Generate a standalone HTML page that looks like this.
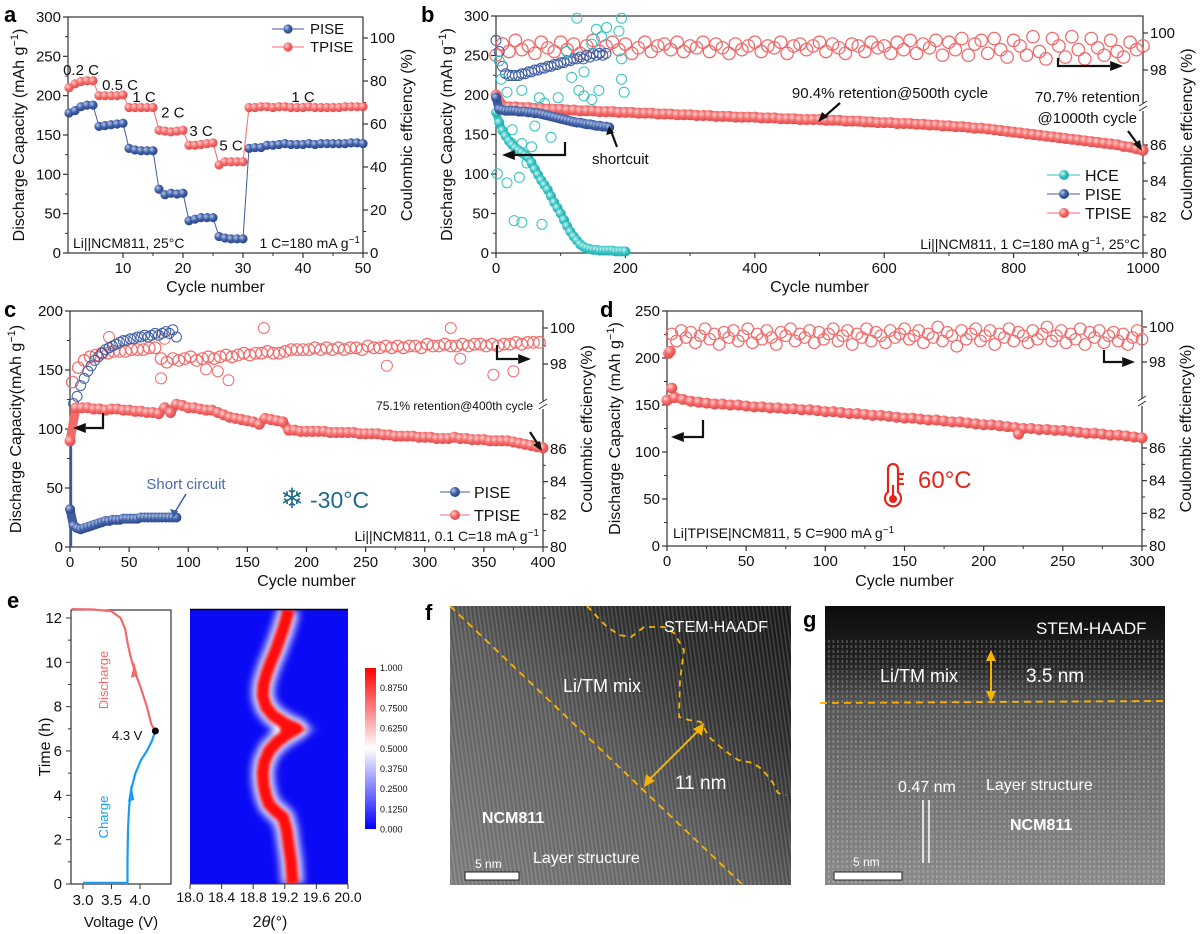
<!DOCTYPE html>
<html><head><meta charset="utf-8"><style>
html,body{margin:0;padding:0;background:#fff;}
svg{display:block;font-family:"Liberation Sans",Arial,sans-serif;}
</style></head><body>
<svg id="fig" width="1200" height="934" viewBox="0 0 1200 934" xmlns="http://www.w3.org/2000/svg">
<defs>
<radialGradient id="gR" cx="0.35" cy="0.35" r="0.7"><stop offset="0" stop-color="#ffd0d0"/><stop offset="0.5" stop-color="#f46a6a"/><stop offset="1" stop-color="#e04848"/></radialGradient>
<radialGradient id="gB" cx="0.35" cy="0.35" r="0.7"><stop offset="0" stop-color="#b8c8ec"/><stop offset="0.5" stop-color="#3f5fa6"/><stop offset="1" stop-color="#2b4585"/></radialGradient>
<radialGradient id="gC" cx="0.35" cy="0.35" r="0.7"><stop offset="0" stop-color="#d0f5f5"/><stop offset="0.5" stop-color="#35c3c3"/><stop offset="1" stop-color="#1ea5a5"/></radialGradient>
<linearGradient id="cbar" x1="0" y1="0" x2="0" y2="1"><stop offset="0" stop-color="#ff0000"/><stop offset="0.5" stop-color="#ffffff"/><stop offset="1" stop-color="#0000ff"/></linearGradient>
<linearGradient id="fGrad" x1="0" y1="1" x2="1" y2="0"><stop offset="0" stop-color="#7a7a7a"/><stop offset="0.45" stop-color="#5a5a5a"/><stop offset="0.75" stop-color="#2a2a2a"/><stop offset="1" stop-color="#151515"/></linearGradient>
<linearGradient id="gGrad" x1="0" y1="0" x2="0" y2="1"><stop offset="0" stop-color="#0c0c0c"/><stop offset="0.2" stop-color="#222"/><stop offset="0.35" stop-color="#555"/><stop offset="0.6" stop-color="#6e6e6e"/><stop offset="1" stop-color="#8a8a8a"/></linearGradient>
<pattern id="stripes" width="4" height="8" patternUnits="userSpaceOnUse" patternTransform="rotate(-8)"><rect x="0" y="0" width="1.6" height="8" fill="#fff" opacity="0.16"/></pattern>
<pattern id="stripesG" width="4.5" height="5" patternUnits="userSpaceOnUse"><rect x="0" y="0" width="1.8" height="3" fill="#fff" opacity="0.22"/></pattern>
<filter id="blur1" filterUnits="userSpaceOnUse" x="150" y="560" width="260" height="360"><feGaussianBlur stdDeviation="1.5"/></filter>
<filter id="blur4" filterUnits="userSpaceOnUse" x="150" y="560" width="260" height="360"><feGaussianBlur stdDeviation="4"/></filter>
</defs>
</svg>
<script>
// ===== Panel a data =====
const aCycles=[1,2,3,4,5,6,7,8,9,10,11,12,13,14,15,16,17,18,19,20,21,22,23,24,25,26,27,28,29,30,31,32,33,34,35,36,37,38,39,40,41,42,43,44,45,46,47,48,49,50];
const aPISE=[178,181,186,188,188,161,162,163,164,165,133,131,130,130,130,81,74,76,75,76,41,43,45,45,45,21,19,18,18,18,133,134,134,137,137,138,139,138,138,138,139,138,139,139,139,139,139,140,140,139];
const aTPISE=[210,215,218,219,219,200,200,200,200,201,185,185,185,185,185,156,155,154,155,156,137,137,138,139,140,112,116,116,116,116,185,185,186,186,185,186,186,185,185,185,186,185,185,185,185,185,186,186,186,186];
const aRateLabels=["0.2 C","0.5 C","1 C","2 C","3 C","5 C","1 C"];
const aRateX=[3,9.5,13.5,18.3,23,28,40];
const aRateV=[226,207,192,172,149,130,192];
const aLeftTicks=[0,50,100,150,200,250,300];
const aRightTicks=[0,20,40,60,80,100];
const aXTicks=[10,20,30,40,50];
// ===== Panel b data =====
const bTCap=[200,186,185,185,184,184,183,183,182,182,182,181,181,180,180,180,179,179,179,178,178,178,177,177,177,176,176,176,175,175,175,174,174,174,173,173,173,172,172,172,172,171,171,171,170,170,170,169,169,169,169,168,168,168,167,167,167,166,166,165,165,165,164,164,164,163,163,162,162,161,161,160,160,159,158,158,157,156,155,154,153,152,151,150,149,148,147,146,145,144,143,142,141,140,139,138,137,135,134,132,130];
const bTCE=[98.8,99.4,99.0,99.6,99.1,99.3,98.9,99.5,99.2,99.0,99.5,99.1,99.4,98.9,99.3,99.6,99.0,99.3,99.5,99.1,99.4,98.9,99.2,99.5,99.0,99.3,99.4,99.1,99.5,99.0,99.3,99.2,99.5,99.0,99.4,99.2,98.9,99.4,99.1,99.3,99.5,99.0,99.3,99.2,99.5,98.9,99.3,99.4,99.1,99.3,99.5,99.0,99.4,99.2,98.9,99.4,99.3,99.0,99.5,99.2,99.3,98.9,99.5,99.1,99.6,98.9,99.4,99.2,99.6,98.8,99.5,99.1,99.7,98.8,99.4,99.6,98.9,99.7,99.1,98.7,99.6,99.3,98.8,99.8,99.0,98.6,99.7,99.3,98.7,99.8,99.1,98.6,99.7,99.2,98.8,99.6,99.0,98.7,99.5,99.1,99.3];
const bPCap=[197,182,181,180,180,180,180,179,179,179,178,178,177,177,176,175,174,173,172,171,170,169,168,167,166,165,165,164,163,163,162,161,161,160,160,159];
const bPCE=[99.6,99.0,98.2,97.8,97.7,97.7,97.7,97.7,97.8,97.8,97.9,97.9,98.0,98.0,98.1,98.1,98.2,98.2,98.3,98.3,98.4,98.4,98.5,98.5,98.6,98.6,98.7,98.6,98.8,98.7,98.9,98.8,98.9,98.8,98.9];
const bHCap=[178,165,155,148,142,137,133,130,127,124,121,114,106,99,92,86,80,72,64,57,50,42,34,27,21,16,11,8,6,5,4,4,3,3,3,3,3,2,2,2,2];
const bHCECycles=[5,8,17,40,67,75,96,109,117,128,136,148,155,163,171,190,194,194,198,125,194,136,148,159,2,17,28,40,71,36,48,55,25,40,25,60,85];
const bHCE=[98.5,97.5,96.8,96.9,96.5,96.2,96.5,99.0,97.6,96.9,96.6,96.4,100.2,99.8,100.3,100.1,98.6,97.5,96.8,100.8,100.8,97.9,99.4,96.9,84.4,83.9,81.8,81.7,81.6,84.2,85.0,85.9,86.3,86.4,90,91,88];
const bLeftTicks=[0,50,100,150,200,250,300];
const bRightTicks=[80,82,84,86,98,100];
const bXTicks=[0,200,400,600,800,1000];
// ===== Panel c data =====
const cTCap=[90,118,118,118,117,117,116,117,117,116,116,115,115,114,114,113,118,114,121,120,118,118,117,116,116,114,112,110,109,108,107,106,104,109,108,107,106,99,99,98,98,98,98,98,97,97,97,97,97,96,96,96,96,95,95,94,94,94,94,93,93,93,92,92,92,93,92,92,91,91,91,90,90,90,90,89,88,87,86,85,84];
const cTCE=[97.0,97.8,98.2,98.4,98.5,98.6,98.6,98.7,98.7,98.7,98.8,98.8,98.8,98.9,98.9,98.3,98.1,98.3,98.2,98.3,98.4,98.2,98.3,98.4,98.3,98.4,98.5,98.4,98.5,98.6,98.5,98.6,98.6,98.7,98.6,98.6,98.7,98.8,98.8,98.8,98.8,98.9,98.8,98.9,98.8,98.9,98.8,98.9,98.9,98.8,99.0,98.9,98.9,99.0,98.9,99.0,98.9,99.0,99.0,98.9,99.1,99.0,99.0,99.1,99.0,99.0,99.1,99.0,99.1,99.1,99.0,99.1,99.0,99.1,99.1,99.2,99.1,99.2,99.2,99.2];
const cOutCycles=[33,77,80,115,125,134,164,268,322,330,358,375];
const cOutCE=[99.5,97.2,99.4,97.7,97.6,97.1,100.0,97.9,100.0,98.3,97.4,97.6];
const cPCap=[32,18,16,15,16,17,18,19,20,21,22,22,23,23,23,24,24,24,24,24,25,25,25,25,25,25,25,25,25,25,25];
const cPCE=[95.8,96.2,96.8,97.2,97.6,97.9,98.2,98.4,98.6,98.8,98.9,99.0,99.1,99.2,99.3,99.3,99.4,99.4,99.5,99.5,99.6,99.5,99.6,99.7,99.6,99.7,99.8,99.7,99.9,99.5];
const cLeftTicks=[0,50,100,150,200];
const cRightTicks=[80,82,84,86,98,100];
const cXTicks=[0,50,100,150,200,250,300,350,400];
// ===== Panel d data =====
const dCap=[155,158,156,154,153,152,151,151,150,150,149,148,148,147,147,146,146,145,145,144,143,143,142,141,141,140,139,139,138,137,136,136,135,134,134,133,132,132,131,130,129,129,128,127,126,125,125,124,124,123,123,122,121,120,120,119,118,118,117,116,115];
const dOutCycles=[1,2,3,222];
const dOutCap=[205,207,168,119];
const dCE=[99.6,99.2,99.8,99.4,99.7,99.1,99.5,99.9,99.3,99.6,99.0,99.7,99.4,99.8,99.2,99.5,99.9,99.1,99.6,99.3,99.8,99.4,99.0,99.7,99.5,99.9,99.2,99.6,99.4,99.8,99.1,99.7,99.3,99.6,99.9,99.2,99.5,99.8,99.0,99.6,99.4,99.9,99.2,99.7,99.5,99.1,99.8,99.4,99.6,99.9,99.3,99.5,99.8,99.1,99.6,99.4,100.0,99.2,99.7,99.5,98.9,99.8,99.3,99.6,99.9,99.2,99.5,99.8,99.0,99.6,99.4,99.9,99.2,99.7,99.5,99.1,99.8,99.3,99.6,100.0,99.2,99.5,99.8,99.1,99.6,99.3,99.9,99.0,99.7,99.4,99.8,99.1,99.5,99.7,99.2,99.6,99.0,99.4,99.8,99.3];
const dLeftTicks=[0,50,100,150,200,250];
const dRightTicks=[80,82,84,86,98,100];
const dXTicks=[0,50,100,150,200,250,300];
// ===== Panel e data =====
const chargeV=[3.0,3.78,3.78,3.79,3.81,3.85,3.92,4.02,4.12,4.2,4.27];
const chargeT=[0.05,0.05,1.0,2.5,3.5,4.3,5.0,5.6,6.0,6.4,6.9];
const dischargeV=[4.27,4.2,4.12,4.02,3.92,3.84,3.78,3.74,3.66,3.5,3.2,2.8];
const dischargeT=[6.9,7.2,8.0,8.8,9.5,10.2,10.9,11.5,12.0,12.3,12.38,12.4];
const hmTime=[0,0.5,1,1.5,2,2.5,3,3.3,3.6,4,4.5,5,5.5,6,6.4,6.8,7.0,7.2,7.6,8,8.5,9,9.5,10,10.5,11,11.5,12,12.4];
const hmTheta=[19.3,19.29,19.28,19.26,19.24,19.22,19.18,19.08,19.0,18.96,18.93,18.92,18.94,19.0,19.1,19.25,19.35,19.22,19.05,18.96,18.92,18.93,18.97,19.02,19.08,19.13,19.18,19.22,19.25];
const eTimeTicks=[0,2,4,6,8,10,12];
const eVTicks=[3.0,3.5,4.0];
const eThetaTicks=[18.0,18.4,18.8,19.2,19.6,20.0];
const cbLabels=["1.000","0.8750","0.7500","0.6250","0.5000","0.3750","0.2500","0.1250","0.000"];

const NS='http://www.w3.org/2000/svg';
const svg=document.getElementById('fig');
function mk(tag,attrs,parent){const e=document.createElementNS(NS,tag);for(const k in attrs)e.setAttribute(k,attrs[k]);(parent||svg).appendChild(e);return e;}
function txt(x,y,s,size,opts,parent){opts=opts||{};const e=mk('text',Object.assign({x:x,y:y,'font-size':size,fill:'#111'},opts),parent);e.textContent=s;return e;}
const RED='#f26b6b',BLUE='#3d5da3',CYAN='#34c2c2';

function group(){return mk('g',{});}

function frame(P){
  const g=group();
  
  
  const r=mk('rect',{x:P.x0,y:P.y0,width:P.x1-P.x0,height:P.y1-P.y0,fill:'none',stroke:'#333','stroke-width':1.2},g);
  
  
  P.xTicks.forEach((v,i)=>{
    const x=P.xs(v);
    mk('line',{x1:x,x2:x,y1:P.y1,y2:P.y1+5,stroke:'#333','stroke-width':1.2},g);
    if(i<P.xTicks.length-1){const xm=P.xs((v+P.xTicks[i+1])/2);mk('line',{x1:xm,x2:xm,y1:P.y1,y2:P.y1+3,stroke:'#333'},g);}
    const t=txt(x,P.y1+20,String(v),15,{'text-anchor':'middle'},g);
    
    
  });
  P.lTicks.forEach((v,i)=>{
    const y=P.ys(v);
    mk('line',{x1:P.x0-5,x2:P.x0,y1:y,y2:y,stroke:'#333','stroke-width':1.2},g);
    if(i<P.lTicks.length-1){const ym=P.ys((v+P.lTicks[i+1])/2);mk('line',{x1:P.x0-3,x2:P.x0,y1:ym,y2:ym,stroke:'#333'},g);}
    const t=txt(P.x0-7,y+5,String(v),15,{'text-anchor':'end'},g);
    
    
  });
  P.rTicks.forEach((v,i)=>{
    const y=P.rs(v);
    mk('line',{x1:P.x1,x2:P.x1+5,y1:y,y2:y,stroke:'#333','stroke-width':1.2},g);
    if(i<P.rTicks.length-1 && P.rTicks[i+1]-v<=20 && !(v===86&&P.rTicks[i+1]===98)){const ym=P.rs((v+P.rTicks[i+1])/2);mk('line',{x1:P.x1,x2:P.x1+3,y1:ym,y2:ym,stroke:'#333'},g);}
    const t=txt(P.x1+7,y+5,String(v),15,{'text-anchor':'start'},g);
    
    
  });
  if(P.breakY){
    mk('rect',{x:P.x1-4,y:P.breakY-4,width:8,height:8,fill:'#fff'},g);
    mk('line',{x1:P.x1-4,y1:P.breakY-1,x2:P.x1+4,y2:P.breakY-6,stroke:'#333'},g);
    mk('line',{x1:P.x1-4,y1:P.breakY+4,x2:P.x1+4,y2:P.breakY-1,stroke:'#333'},g);
  }
  const xt=txt((P.x0+P.x1)/2,P.xLabelY,'Cycle number',16,{'text-anchor':'middle'},g);
  
  
  const lt=mk('text',{x:0,y:0,'font-size':16,'text-anchor':'middle',fill:'#111',transform:`translate(${P.lTitleX},${(P.y0+P.y1)/2}) rotate(-90)`},g);
  lt.innerHTML=P.lTitle;
  
  
  const rt=mk('text',{x:0,y:0,'font-size':16,'text-anchor':'middle',fill:'#111',transform:`translate(${P.rTitleX},${(P.y0+P.y1)/2}) rotate(-90)`},g);
  rt.textContent=P.rTitle;
  
  
}
function pieceCE(y80,y86,yBreak,vBreak,y98,perUp){
  return v=>{
    if(v<=86) return y80-(v-80)*(y80-y86)/6;
    if(v<vBreak) return y86-(v-86)*(y86-yBreak)/(vBreak-86);
    return y98-(v-98)*perUp;
  };
}
function dot(x,y,r,fill,parent){return mk('circle',{cx:x,cy:y,r:r,fill:fill,stroke:'none'},parent);}
function ring(x,y,r,col,parent,w){return mk('circle',{cx:x,cy:y,r:r,fill:'none',stroke:col,'stroke-width':w||1},parent);}
function arrowPath(d,parent){return mk('path',{d:d,fill:'none',stroke:'#111','stroke-width':2.2},parent);}
function head(x,y,dir,parent,size){size=size||8;let pts;
  if(dir==='l')pts=`${x},${y} ${x+size*1.6},${y-size/1.6} ${x+size*1.6},${y+size/1.6}`;
  else pts=`${x},${y} ${x-size*1.6},${y-size/1.6} ${x-size*1.6},${y+size/1.6}`;
  return mk('polygon',{points:pts,fill:'#111'},parent);}
function letter(x,y,s){const t=txt(x,y,s,22,{'font-weight':'bold',fill:'#000'});return t;}

// ================= PANEL A =================
(function(){
  const xs=c=>123+(c-10)*6.0, ys=v=>253-v*236/300, rs=v=>253-v*2.15;
  frame({name:'panel-a',x0:68,x1:363,y0:17,y1:253,xs,ys,rs,xTicks:aXTicks,lTicks:aLeftTicks,rTicks:aRightTicks,xLabelY:292,lTitleX:24,rTitleX:412,
    lTitle:'Discharge Capacity (mAh g<tspan dy="-6" font-size="11">−1</tspan><tspan dy="6">)</tspan>',rTitle:'Coulombic effciency (%)'});
  const g=group();
  
  
  [[aPISE,BLUE,'url(#gB)','pise'],[aTPISE,RED,'url(#gR)','tpise']].forEach(([arr,col,fill,nm])=>{
    const pl=mk('polyline',{points:aCycles.map((c,i)=>xs(c)+','+ys(arr[i])).join(' '),fill:'none',stroke:col,'stroke-width':1},g);
    
    
    aCycles.forEach((c,i)=>{
      const d=dot(xs(c),ys(arr[i]),4.6,fill,g);
      
      
    });
  });
  aRateLabels.forEach((s,i)=>{
    const t=txt(xs(aRateX[i]),ys(aRateV[i]),s,15,{'text-anchor':'middle'});
    
    
  });
  [['PISE','url(#gB)',BLUE,29],['TPISE','url(#gR)',RED,47]].forEach(([s,f,c,y])=>{
    mk('line',{x1:272,x2:304,y1:y,y2:y,stroke:c,'stroke-width':1});
    const d=dot(288,y,4.6,f);
    
    
    const t=txt(310,y+5,s,15);
    
    
  });
  const n1=txt(73,248,'Li||NCM811, 25°C',14);
  
  
  const n2=mk('text',{x:360,y:248,'font-size':14,'text-anchor':'end',fill:'#111'});
  n2.innerHTML='1 C=180 mA g<tspan dy="-5" font-size="10">−1</tspan>';
  
  
})();

// ================= PANEL B =================
(function(){
  const xs=c=>496+c*0.647, ys=v=>253-v*237/300;
  const rs=pieceCE(253,145,107,96,70,18.5);
  frame({name:'panel-b',x0:496,x1:1143,y0:16,y1:253,xs,ys,rs,xTicks:bXTicks,lTicks:bLeftTicks,rTicks:bRightTicks,breakY:107,xLabelY:292,lTitleX:452,rTitleX:1192,
    lTitle:'Discharge Capacity (mAh g<tspan dy="-6" font-size="11">−1</tspan><tspan dy="6">)</tspan>',rTitle:'Coulombic effciency (%)'});
  const g=group();
  
  
  bTCE.forEach((v,i)=>{
    const c=ring(xs(i*10),rs(v),6.2,RED,g,1.3);
    
    
  });
  bPCE.forEach((v,i)=>{
    const c=ring(xs(i*5),rs(v),5,BLUE,g);
    
    
  });
  bHCECycles.forEach((cy,i)=>{
    const c=ring(xs(cy),rs(bHCE[i]),5,CYAN,g);
    
    
  });
  const tl=mk('polyline',{points:bTCap.map((v,i)=>xs(i*10)+','+ys(v)).join(' '),fill:'none',stroke:RED,'stroke-width':10,'stroke-linejoin':'round'},g);
  
  
  bTCap.forEach((v,i)=>{
    const d=dot(xs(i*10),ys(v),5.5,'url(#gR)',g);
    
    
  });
  const hl=mk('polyline',{points:bHCap.map((v,i)=>xs(i*5)+','+ys(v)).join(' '),fill:'none',stroke:CYAN,'stroke-width':8,'stroke-linejoin':'round'},g);
  
  
  bHCap.forEach((v,i)=>{
    const d=dot(xs(i*5),ys(v),5,'url(#gC)',g);
    
    
  });
  const pl=mk('polyline',{points:bPCap.map((v,i)=>xs(i*5)+','+ys(v)).join(' '),fill:'none',stroke:BLUE,'stroke-width':9,'stroke-linejoin':'round'},g);
  
  
  bPCap.forEach((v,i)=>{
    const d=dot(xs(i*5),ys(v),5,'url(#gB)',g);
    
    
  });
  const a1=txt(890,98,'90.4% retention@500th cycle',15,{'text-anchor':'middle'});
  
  
  arrowPath('M840,103 L823,118');
  mk('polygon',{points:'818,122 822,112 828,117',fill:'#111'});
  const a2=txt(1140,102,'70.7% retention',15,{'text-anchor':'end'});
  
  
  const a3=txt(1137,123,'@1000th cycle',15,{'text-anchor':'end'});
  
  
  arrowPath('M1128,131 L1139,146');
  mk('polygon',{points:'1142,151 1133,144 1140,140',fill:'#111'});
  const a4=txt(592,164,'shortcuit',15);
  
  
  arrowPath('M617,147 L611,131');
  mk('polygon',{points:'609,126 606,135 614,133',fill:'#111'});
  arrowPath('M565,142 L565,155 L514,155');
  head(502,155,'l');
  arrowPath('M1058,58 L1058,66 L1110,66');
  head(1123,66,'r');
  [['HCE','url(#gC)',CYAN,175],['PISE','url(#gB)',BLUE,194],['TPISE','url(#gR)',RED,213]].forEach(([s,f,c,y])=>{
    mk('line',{x1:1047,x2:1080,y1:y,y2:y,stroke:c,'stroke-width':1});
    const d=dot(1064,y,5,f);
    
    
    const t=txt(1085,y+6,s,16);
    
    
  });
  const n=mk('text',{x:1140,y:249,'font-size':14,'text-anchor':'end',fill:'#111'});
  n.innerHTML='Li||NCM811, 1 C=180 mA g<tspan dy="-5" font-size="10">−1</tspan><tspan dy="5">, 25°C</tspan>';
  
  
})();

// ================= PANEL C =================
(function(){
  const xs=c=>70+c*1.1825, ys=v=>547-v*1.18;
  const rs=pieceCE(547,449,405,95.7,364,18);
  frame({name:'panel-c',x0:70,x1:543,y0:311,y1:547,xs,ys,rs,xTicks:cXTicks,lTicks:cLeftTicks,rTicks:cRightTicks,breakY:405,xLabelY:586,lTitleX:21,rTitleX:592,
    lTitle:'Discharge Capacity(mAh g<tspan dy="-6" font-size="11">−1</tspan><tspan dy="6">)</tspan>',rTitle:'Coulombic effciency(%)'});
  const g=group();
  
  
  cTCE.forEach((v,i)=>{
    const c=ring(xs(2+i*5),rs(v),5.8,RED,g,1.2);
    
    
  });
  cOutCycles.forEach((cy,i)=>{
    const c=ring(xs(cy),rs(cOutCE[i]),5.5,RED,g);
    
    
  });
  cPCE.forEach((v,i)=>{
    const c=ring(xs(3+i*3),rs(v),5,BLUE,g);
    
    
  });
  mk('line',{x1:xs(1),x2:xs(1),y1:ys(0),y2:ys(110),stroke:BLUE,'stroke-width':2},g);
  const tl=mk('polyline',{points:cTCap.map((v,i)=>xs(i*5)+','+ys(v)).join(' '),fill:'none',stroke:RED,'stroke-width':9,'stroke-linejoin':'round'},g);
  
  
  cTCap.forEach((v,i)=>{
    const d=dot(xs(i*5),ys(v),5.5,'url(#gR)',g);
    
    
  });
  const pl=mk('polyline',{points:cPCap.map((v,i)=>xs(i*3)+','+ys(v)).join(' '),fill:'none',stroke:BLUE,'stroke-width':9,'stroke-linejoin':'round'},g);
  
  
  cPCap.forEach((v,i)=>{
    const d=dot(xs(i*3),ys(v),5,'url(#gB)',g);
    
    
  });
  const s=txt(186,489,'Short circuit',15,{'text-anchor':'middle',fill:'#4a6bab'});
  
  
  mk('line',{x1:186,y1:494,x2:175,y2:512,stroke:'#3d5da3','stroke-width':1.5});
  mk('polygon',{points:'174,518 170,509 178,511',fill:'#3d5da3'});
  const sf=txt(292,508,'❄',28,{'text-anchor':'middle',fill:'#1d6a8a'});
  
  
  const tc=txt(310,508,'-30°C',23,{fill:'#1d6a8a'});
  
  
  [['PISE','url(#gB)',BLUE,492],['TPISE','url(#gR)',RED,515]].forEach(([s,f,c,y])=>{
    mk('line',{x1:440,x2:470,y1:y,y2:y,stroke:c,'stroke-width':1});
    const d=dot(455,y,5,f);
    
    
    const t=txt(474,y+6,s,16);
    
    
  });
  const n=mk('text',{x:539,y:541,'font-size':14,'text-anchor':'end',fill:'#111'});
  n.innerHTML='Li||NCM811, 0.1 C=18 mA g<tspan dy="-5" font-size="10">−1</tspan>';
  
  
  const r=txt(533,410,'75.1% retention@400th cycle',12,{'text-anchor':'end'});
  
  
  arrowPath('M530,432 L539,446');
  mk('polygon',{points:'542,451 533,445 540,441',fill:'#111'});
  arrowPath('M103,413 L103,428 L86,428');
  head(73,428,'l');
  arrowPath('M497,345 L497,359 L518,359');
  head(531,359,'r');
})();

// ================= PANEL D =================
(function(){
  const xs=c=>667+c*1.5833, ys=v=>546-v*0.94;
  const rs=pieceCE(546,448,402,95.7,362,17.5);
  frame({name:'panel-d',x0:667,x1:1142,y0:311,y1:546,xs,ys,rs,xTicks:dXTicks,lTicks:dLeftTicks,rTicks:dRightTicks,breakY:402,xLabelY:586,lTitleX:620,rTitleX:1191,
    lTitle:'Discharge Capacity (mAh g<tspan dy="-6" font-size="11">−1</tspan><tspan dy="6">)</tspan>',rTitle:'Coulombic effciency(%)'});
  const g=group();
  
  
  dCE.forEach((v,i)=>{
    const c=ring(xs(3+i*3),rs(v),5.8,RED,g,1.2);
    
    
  });
  const tl=mk('polyline',{points:dCap.map((v,i)=>xs(i*5)+','+ys(v)).join(' '),fill:'none',stroke:RED,'stroke-width':9,'stroke-linejoin':'round'},g);
  
  
  dCap.forEach((v,i)=>{
    const d=dot(xs(i*5),ys(v),5.5,'url(#gR)',g);
    
    
  });
  dOutCycles.forEach((cy,i)=>{
    const d=dot(xs(cy),ys(dOutCap[i]),5.5,'url(#gR)',g);
    
    
  });
  const th=mk('g',{stroke:'#e8231c','stroke-width':2.2,fill:'none'});
  
  
  mk('path',{d:'M888,469 L888,492 A8,8 0 1 0 898,492 L898,469 A5,5 0 0 0 888,469 Z'},th);
  mk('circle',{cx:893,cy:499,r:4,fill:'#e8231c',stroke:'none'},th);
  mk('line',{x1:893,y1:485,x2:893,y2:498},th);
  mk('line',{x1:899,y1:474,x2:904,y2:474},th);
  mk('line',{x1:899,y1:479,x2:903,y2:479},th);
  mk('line',{x1:899,y1:484,x2:904,y2:484},th);
  const t=txt(918,488,'60°C',24,{fill:'#e8231c'});
  
  
  const n=mk('text',{x:673,y:538,'font-size':14,fill:'#111'});
  n.innerHTML='Li|TPISE|NCM811, 5 C=900 mA g<tspan dy="-5" font-size="10">−1</tspan>';
  
  
  arrowPath('M703,420 L703,437 L684,437');
  head(671,437,'l');
  arrowPath('M1104,350 L1104,362 L1122,362');
  head(1135,362,'r');
})();

// ================= PANEL E =================
(function(){
  const vx=v=>83+(v-3.0)*57, ty=t=>884-t*22.17;
  const g=group();
  
  
  const fr=mk('rect',{x:71,y:610,width:100,height:274,fill:'none',stroke:'#333','stroke-width':1.2},g);
  
  
  eTimeTicks.forEach((t,i)=>{
    mk('line',{x1:66,x2:71,y1:ty(t),y2:ty(t),stroke:'#333'},g);
    if(i<eTimeTicks.length-1)mk('line',{x1:68,x2:71,y1:ty(t+1),y2:ty(t+1),stroke:'#333'},g);
    const l=txt(62,ty(t)+5,String(t),15,{'text-anchor':'end'},g);
    
    
  });
  eVTicks.forEach(v=>{
    mk('line',{x1:vx(v),x2:vx(v),y1:884,y2:889,stroke:'#333'},g);
    const l=txt(vx(v),905,v.toFixed(1),15,{'text-anchor':'middle'},g);
    
    
  });
  const cl=mk('polyline',{points:chargeV.map((v,i)=>vx(v)+','+ty(chargeT[i])).join(' '),fill:'none',stroke:'#1a9df0','stroke-width':2.2,'stroke-linejoin':'round'},g);
  
  
  const dl=mk('polyline',{points:dischargeV.map((v,i)=>vx(v)+','+ty(dischargeT[i])).join(' '),fill:'none',stroke:'#f26b6b','stroke-width':2.2,'stroke-linejoin':'round'},g);
  
  
  mk('polygon',{points:`${vx(3.84)},${ty(4.5)} ${vx(3.79)},${ty(3.7)} ${vx(3.9)},${ty(3.8)}`,fill:'#1a9df0'},g);
  mk('polygon',{points:`${vx(3.9)},${ty(10.0)} ${vx(3.84)},${ty(9.3)} ${vx(3.96)},${ty(9.4)}`,fill:'#f26b6b'},g);
  const pt=mk('circle',{cx:vx(4.27),cy:ty(6.9),r:3.5,fill:'#000'},g);
  
  
  const l43=txt(112,740,'4.3 V',13,{},g);
  
  
  const ch=txt(0,0,'Charge',13,{fill:'#1a9df0','text-anchor':'middle',transform:'translate(108,817) rotate(-90)'},g);
  
  
  const dc=txt(0,0,'Discharge',13,{fill:'#f26b6b','text-anchor':'middle',transform:'translate(108,680) rotate(-90)'},g);
  
  
  const yt=txt(0,0,'Time (h)',16,{'text-anchor':'middle',transform:'translate(50,747) rotate(-90)'},g);
  
  
  const xt=txt(121,927,'Voltage (V)',15,{'text-anchor':'middle'},g);
  
  

  const hx=th=>190+(th-18)*79;
  const h=group();
  
  
  mk('rect',{x:190,y:609,width:158,height:275,fill:'#0a0af5'},h);
  const cp=mk('clipPath',{id:'hmclip'},h);
  mk('rect',{x:190,y:609,width:158,height:275},cp);
  const hg=mk('g',{'clip-path':'url(#hmclip)'},h);
  const pts=hmTheta.map((t,i)=>hx(t)+','+ty(hmTime[i])).join(' ');
  mk('polyline',{points:pts,fill:'none',stroke:'#ffffff','stroke-width':22,'stroke-linejoin':'round',filter:'url(#blur4)',opacity:0.9},hg);
  mk('polygon',{points:`${hx(19.1)},${ty(7.35)} ${hx(19.62)},${ty(6.98)} ${hx(19.1)},${ty(6.6)}`,fill:'#ffffff',filter:'url(#blur4)',opacity:0.8},hg);
  mk('polygon',{points:`${hx(19.15)},${ty(7.2)} ${hx(19.5)},${ty(6.98)} ${hx(19.15)},${ty(6.75)}`,fill:'#ff1010',filter:'url(#blur1)'},hg);
  const ridge=mk('polyline',{points:pts,fill:'none',stroke:'#ff0a0a','stroke-width':12,'stroke-linejoin':'round',filter:'url(#blur1)'},hg);
  
  
  mk('line',{x1:190,x2:348,y1:609.5,y2:609.5,stroke:'#000','stroke-width':1.5},h);
  eThetaTicks.forEach(t=>{
    mk('line',{x1:hx(t),x2:hx(t),y1:884,y2:889,stroke:'#333'},h);
    const l=txt(hx(t),902,t.toFixed(1),14,{'text-anchor':'middle'},h);
    
    
  });
  mk('line',{x1:190,x2:348,y1:884,y2:884,stroke:'#333'},h);
  const tt=mk('text',{x:270,y:927,'font-size':16,'text-anchor':'middle',fill:'#111'},h);
  tt.innerHTML='2<tspan font-style="italic">θ</tspan>(°)';
  
  
  const cb=mk('rect',{x:365,y:668,width:11,height:161,fill:'url(#cbar)'},h);
  
  
  cbLabels.forEach((s,i)=>{
    const l=txt(380,671+i*20.2,s,9,{},h);
    
    
  });
})();

// ================= PANEL F =================
(function(){
  const g=group();
  
  
  mk('rect',{x:450,y:606,width:341,height:279,fill:'url(#fGrad)'},g);
  mk('rect',{x:450,y:606,width:341,height:279,fill:'url(#stripes)'},g);
  const o='#f5b400';
  mk('line',{x1:450,y1:606,x2:743,y2:885,stroke:o,'stroke-width':1.8,'stroke-dasharray':'7,5'},g);
  mk('polyline',{points:'587,606 605,625 619,635 631,637 644,627 664,627 674,633 684,650 680,680 679,717 689,720 701,722 709,737 724,750 738,760 753,763 763,770 773,783 778,793 786,795',fill:'none',stroke:o,'stroke-width':1.8,'stroke-dasharray':'6,5'},g);
  mk('line',{x1:648,y1:781,x2:700,y2:729,stroke:o,'stroke-width':2},g);
  mk('polygon',{points:'644,787 646,774 655,781',fill:o},g);
  mk('polygon',{points:'704,723 702,736 693,729',fill:o},g);
  const w='#fff';
  const l1=txt(664,632,'STEM-HAADF',16,{fill:w},g);
  
  
  const l2=txt(563,692,'Li/TM mix',18,{fill:w},g);
  
  
  const l3=txt(675,789,'11 nm',19,{fill:w},g);
  
  
  const l4=txt(482,823,'NCM811',16,{fill:w,'font-weight':'bold'},g);
  
  
  const l5=txt(533,863,'Layer structure',16,{fill:w},g);
  
  
  const l6=txt(475,868,'5 nm',12,{fill:w},g);
  
  
  const sb=mk('rect',{x:465,y:872,width:54,height:8,fill:'#fff',stroke:'#222'},g);
  
  
})();

// ================= PANEL G =================
(function(){
  const g=group();
  
  
  mk('rect',{x:825,y:606,width:340,height:279,fill:'url(#gGrad)'},g);
  mk('rect',{x:825,y:640,width:340,height:245,fill:'url(#stripesG)'},g);
  const o='#f5b400';
  mk('line',{x1:820,y1:703,x2:1163,y2:701,stroke:o,'stroke-width':1.8,'stroke-dasharray':'7,5'},g);
  mk('line',{x1:991,y1:656,x2:991,y2:696,stroke:o,'stroke-width':2},g);
  mk('polygon',{points:'991,650 986,661 996,661',fill:o},g);
  mk('polygon',{points:'991,702 986,691 996,691',fill:o},g);
  const w='#fff';
  const l1=txt(1036,634,'STEM-HAADF',17,{fill:w},g);
  
  
  const l2=txt(880,682,'Li/TM mix',18,{fill:w},g);
  
  
  const l3=txt(1026,682,'3.5 nm',19,{fill:w},g);
  
  
  const l4=txt(898,792,'0.47 nm',16,{fill:w},g);
  
  
  const l5=txt(986,790,'Layer structure',16,{fill:w},g);
  
  
  const l6=txt(1010,830,'NCM811',16,{fill:w,'font-weight':'bold'},g);
  
  
  mk('line',{x1:923,x2:923,y1:800,y2:863,stroke:w,'stroke-width':1.5},g);
  mk('line',{x1:929,x2:929,y1:800,y2:863,stroke:w,'stroke-width':1.5},g);
  const l7=txt(853,866,'5 nm',12,{fill:w},g);
  
  
  const sb=mk('rect',{x:834,y:872,width:68,height:8,fill:'#fff',stroke:'#222'},g);
  
  
})();

[['a',4,22],['b',421,22],['c',4,317],['d',600,317],['e',7,608],['f',425,620],['g',803,627]].forEach(([s,x,y])=>{
  const t=letter(x,y,s);
  
  
});
</script>
</body></html>
